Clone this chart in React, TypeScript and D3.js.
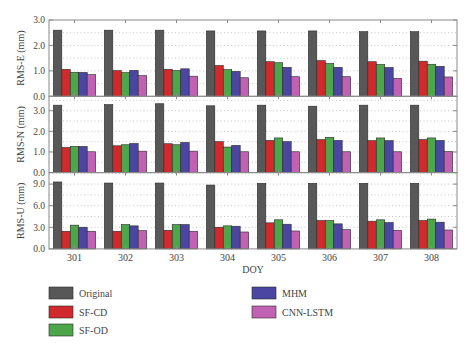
import React, { useEffect, useRef } from "react";
import * as d3 from "d3";

const days = ["301", "302", "303", "304", "305", "306", "307", "308"];
const methods = ["Original", "SF-CD", "SF-OD", "MHM", "CNN-LSTM"];
const colors = ["#585858", "#d12a2c", "#4ea64a", "#4b46a2", "#c061b3"];

// values per method, per day
const rmsE = [
  [2.6, 2.6, 2.6, 2.57, 2.57, 2.57, 2.54, 2.54],
  [1.06, 1.01, 1.06, 1.21, 1.36, 1.4, 1.36, 1.38],
  [0.94, 0.93, 1.01, 1.05, 1.32, 1.29, 1.25, 1.26],
  [0.94, 1.02, 1.08, 0.98, 1.14, 1.14, 1.13, 1.18],
  [0.85, 0.81, 0.79, 0.73, 0.77, 0.77, 0.71, 0.76],
];
const rmsN = [
  [3.27, 3.3, 3.34, 3.24, 3.27, 3.22, 3.27, 3.27],
  [1.22, 1.3, 1.4, 1.5, 1.56, 1.6, 1.55, 1.6],
  [1.27, 1.35, 1.35, 1.24, 1.68, 1.71, 1.68, 1.68],
  [1.27, 1.41, 1.46, 1.32, 1.5, 1.56, 1.55, 1.56],
  [1.01, 1.04, 1.04, 1.01, 1.01, 1.01, 1.01, 1.02],
];
const rmsU = [
  [9.3, 9.15, 9.15, 8.87, 9.11, 9.11, 9.11, 9.11],
  [2.45, 2.45, 2.59, 3.01, 3.62, 3.94, 3.85, 3.94],
  [3.3, 3.38, 3.38, 3.2, 4.04, 3.94, 4.04, 4.14],
  [3.01, 3.2, 3.38, 3.15, 3.43, 3.48, 3.66, 3.71],
  [2.45, 2.54, 2.45, 2.35, 2.49, 2.68, 2.59, 2.63],
];

const panelLabels = ["RMS-E (mm)", "RMS-N (mm)", "RMS-U (mm)"];
const panelData = [rmsE, rmsN, rmsU];
const yMax = [3.0, 3.7, 10.6];
const yTicks = [
  [0, 1, 2, 3],
  [0, 1, 2, 3],
  [0, 3, 6, 9],
];
const gridStep = [0.5, 0.5, 1.5];

const App = () => {
  const ref = useRef<SVGSVGElement>(null);

  useEffect(() => {
    const svg = d3.select(ref.current);
    svg.selectAll("*").remove();

    const left = 49;
    const right = 457;
    const top = 20;
    const panelH = 76.3;
    const font = "'Liberation Serif', 'DejaVu Serif', serif";
    const textColor = "#444";

    const x0 = d3
      .scaleBand()
      .domain(days)
      .range([left, right])
      .paddingInner(0.17)
      .paddingOuter(0.085);
    const x1 = d3
      .scaleBand()
      .domain(methods)
      .range([0, x0.bandwidth()]);

    panelData.forEach((values, p) => {
      const y0 = top + p * panelH;
      const y = d3
        .scaleLinear()
        .domain([0, yMax[p]])
        .range([y0 + panelH, y0]);
      const g = svg.append("g");

      // dotted grid
      const grid = d3.range(gridStep[p], yMax[p], gridStep[p]);
      g.selectAll(".grid")
        .data(grid)
        .enter()
        .append("line")
        .attr("x1", left)
        .attr("x2", right)
        .attr("y1", (d) => y(d))
        .attr("y2", (d) => y(d))
        .attr("stroke", "#b8b8b8")
        .attr("stroke-width", 0.8)
        .attr("stroke-dasharray", "1,2.5");

      // bars
      values.forEach((series, m) => {
        g.selectAll(".bar" + m)
          .data(series)
          .enter()
          .append("rect")
          .attr("x", (d, i) => (x0(days[i]) as number) + (x1(methods[m]) as number))
          .attr("y", (d) => y(d))
          .attr("width", x1.bandwidth())
          .attr("height", (d) => y(0) - y(d))
          .attr("fill", colors[m])
          .attr("stroke", "#2a2a2a")
          .attr("stroke-width", 0.6);
      });

      // frame
      g.append("rect")
        .attr("x", left)
        .attr("y", y0)
        .attr("width", right - left)
        .attr("height", panelH)
        .attr("fill", "none")
        .attr("stroke", "#8a8a8a")
        .attr("stroke-width", 1);

      // y ticks (inward, both sides)
      yTicks[p].forEach((t) => {
        g.append("line")
          .attr("x1", left)
          .attr("x2", left + 4)
          .attr("y1", y(t))
          .attr("y2", y(t))
          .attr("stroke", "#8a8a8a");
        g.append("line")
          .attr("x1", right - 4)
          .attr("x2", right)
          .attr("y1", y(t))
          .attr("y2", y(t))
          .attr("stroke", "#8a8a8a");
        g.append("text")
          .attr("x", left - 4)
          .attr("y", y(t))
          .attr("dy", "0.35em")
          .attr("text-anchor", "end")
          .attr("font-family", font)
          .attr("font-size", 9.5)
          .attr("fill", textColor)
          .text(d3.format(".1f")(t));
      });

      // x ticks at group centers (inward, top and bottom)
      days.forEach((d) => {
        const cx = (x0(d) as number) + x0.bandwidth() / 2;
        g.append("line")
          .attr("x1", cx)
          .attr("x2", cx)
          .attr("y1", y0)
          .attr("y2", y0 + 3)
          .attr("stroke", "#8a8a8a");
        g.append("line")
          .attr("x1", cx)
          .attr("x2", cx)
          .attr("y1", y0 + panelH - 3)
          .attr("y2", y0 + panelH)
          .attr("stroke", "#8a8a8a");
      });

      // y label
      g.append("text")
        .attr("transform", `translate(24, ${y0 + panelH / 2}) rotate(-90)`)
        .attr("text-anchor", "middle")
        .attr("font-family", font)
        .attr("font-size", 10)
        .attr("fill", textColor)
        .text(panelLabels[p]);
    });

    const bottom = top + 3 * panelH;

    // x labels
    svg
      .selectAll(".xlabel")
      .data(days)
      .enter()
      .append("text")
      .attr("x", (d) => (x0(d) as number) + x0.bandwidth() / 2)
      .attr("y", bottom + 12)
      .attr("text-anchor", "middle")
      .attr("font-family", font)
      .attr("font-size", 10)
      .attr("fill", textColor)
      .text((d) => d);

    svg
      .append("text")
      .attr("x", 253)
      .attr("y", bottom + 24)
      .attr("text-anchor", "middle")
      .attr("font-family", font)
      .attr("font-size", 10)
      .attr("fill", textColor)
      .text("DOY");

    // legend
    const legendPos = [
      [49, 287],
      [49, 306],
      [49, 324],
      [252, 287],
      [252, 306],
    ];
    methods.forEach((m, i) => {
      const [lx, ly] = legendPos[i];
      svg
        .append("rect")
        .attr("x", lx)
        .attr("y", ly)
        .attr("width", 24)
        .attr("height", 12)
        .attr("fill", colors[i])
        .attr("stroke", "#2a2a2a")
        .attr("stroke-width", 0.6);
      svg
        .append("text")
        .attr("x", lx + 30)
        .attr("y", ly + 6)
        .attr("dy", "0.35em")
        .attr("font-family", font)
        .attr("font-size", 10)
        .attr("fill", textColor)
        .text(m);
    });
  }, []);

  return (
    <svg
      ref={ref}
      width={474}
      height={353}
      style={{ position: "absolute", left: 0, top: 0, background: "#fff" }}
    />
  );
};

export default App;
